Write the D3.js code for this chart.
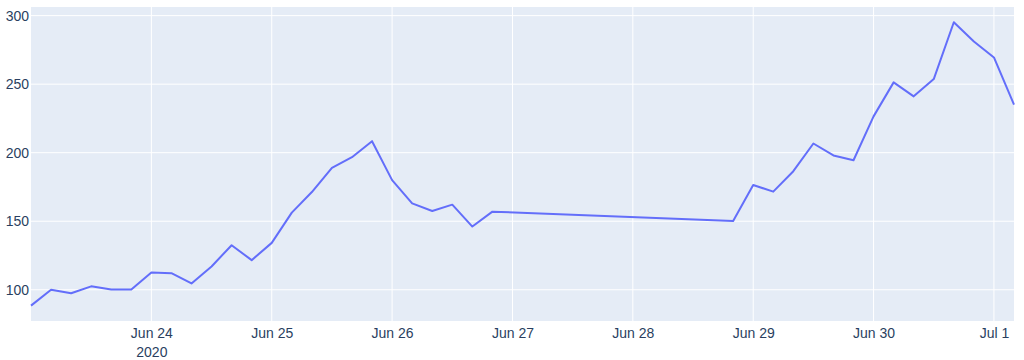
<!DOCTYPE html>
<html>
<head>
<meta charset="utf-8">
<script src="https://cdn.jsdelivr.net/npm/d3@7"></script>
<style>
  body { margin: 0; background: #fff; }
  svg { display: block; font-family: "Liberation Sans", Arial, sans-serif; }
</style>
</head>
<body>
<script>
// Data (4-hourly samples, gap Jun 27 - Jun 28)
const times = [
  "2020-06-23 00:00", "2020-06-23 04:00", "2020-06-23 08:00", "2020-06-23 12:00", "2020-06-23 16:00", "2020-06-23 20:00",
  "2020-06-24 00:00", "2020-06-24 04:00", "2020-06-24 08:00", "2020-06-24 12:00", "2020-06-24 16:00", "2020-06-24 20:00",
  "2020-06-25 00:00", "2020-06-25 04:00", "2020-06-25 08:00", "2020-06-25 12:00", "2020-06-25 16:00", "2020-06-25 20:00",
  "2020-06-26 00:00", "2020-06-26 04:00", "2020-06-26 08:00", "2020-06-26 12:00", "2020-06-26 16:00", "2020-06-26 20:00",
  "2020-06-28 20:00",
  "2020-06-29 00:00", "2020-06-29 04:00", "2020-06-29 08:00", "2020-06-29 12:00", "2020-06-29 16:00", "2020-06-29 20:00",
  "2020-06-30 00:00", "2020-06-30 04:00", "2020-06-30 08:00", "2020-06-30 12:00", "2020-06-30 16:00", "2020-06-30 20:00",
  "2020-07-01 00:00", "2020-07-01 04:00"
];
const values = [
  88.4, 100, 97.4, 102.5, 100.2, 100.1,
  112.6, 112.1, 104.6, 117, 132.5, 121.6,
  134.2, 156.3, 171.3, 189, 196.7, 208.4,
  180, 163, 157.5, 162.1, 146.1, 157,
  150.2,
  176.4, 171.6, 186.5, 206.7, 198, 194.5,
  226.5, 251.3, 241.1, 253.7, 295.2, 281.1,
  269.5, 235
];
const yTicks = [100, 150, 200, 250, 300];

const width = 1024;
const height = 360;
const margin = { top: 7, right: 10, bottom: 39, left: 31 };

const parse = d3.utcParse("%Y-%m-%d %H:%M");
const data = times.map((t, i) => ({ date: parse(t), value: values[i] }));

const svg = d3.select("body").append("svg")
    .attr("width", width)
    .attr("height", height);

const x = d3.scaleUtc()
    .domain(d3.extent(data, d => d.date))
    .range([margin.left, width - margin.right]);

const y = d3.scaleLinear()
    .domain([77.2, 306.3])
    .range([height - margin.bottom, margin.top]);

// plot background
svg.append("rect")
    .attr("x", margin.left)
    .attr("y", margin.top)
    .attr("width", width - margin.left - margin.right)
    .attr("height", height - margin.top - margin.bottom)
    .attr("fill", "#e5ecf6");

// daily ticks, skipping the one sitting on the left edge
const xTicks = x.ticks(d3.utcDay.every(1)).filter(d => x(d) > margin.left + 5);

// grid
svg.append("g")
    .selectAll("line")
    .data(xTicks)
    .enter().append("line")
    .attr("x1", d => x(d)).attr("x2", d => x(d))
    .attr("y1", margin.top).attr("y2", height - margin.bottom)
    .attr("stroke", "#fff").attr("stroke-width", 1);

svg.append("g")
    .selectAll("line")
    .data(yTicks)
    .enter().append("line")
    .attr("x1", margin.left).attr("x2", width - margin.right)
    .attr("y1", d => y(d)).attr("y2", d => y(d))
    .attr("stroke", "#fff").attr("stroke-width", 1);

// line
const line = d3.line()
    .x(d => x(d.date))
    .y(d => y(d.value));

svg.append("path")
    .datum(data)
    .attr("fill", "none")
    .attr("stroke", "#636efa")
    .attr("stroke-width", 2)
    .attr("stroke-linejoin", "round")
    .attr("d", line);

// axes
const fmt = d3.utcFormat("%b %-d");
const xAxis = svg.append("g")
    .attr("transform", `translate(0,${height - margin.bottom})`)
    .call(d3.axisBottom(x).tickValues(xTicks).tickFormat(fmt).tickSize(0).tickPadding(7));
xAxis.select(".domain").remove();
xAxis.selectAll("text")
    .attr("fill", "#2a3f5f")
    .style("font-size", "14px");
xAxis.selectAll(".tick").filter((d, i) => i === 0)
    .append("text")
    .attr("y", 36)
    .attr("fill", "#2a3f5f")
    .attr("text-anchor", "middle")
    .style("font-size", "14px")
    .text(d3.utcFormat("%Y")(xTicks[0]));

const yAxis = svg.append("g")
    .attr("transform", `translate(${margin.left},0)`)
    .call(d3.axisLeft(y).tickValues(yTicks).tickSize(0).tickPadding(2));
yAxis.select(".domain").remove();
yAxis.selectAll("text")
    .attr("fill", "#2a3f5f")
    .style("font-size", "14px");
</script>
</body>
</html>
